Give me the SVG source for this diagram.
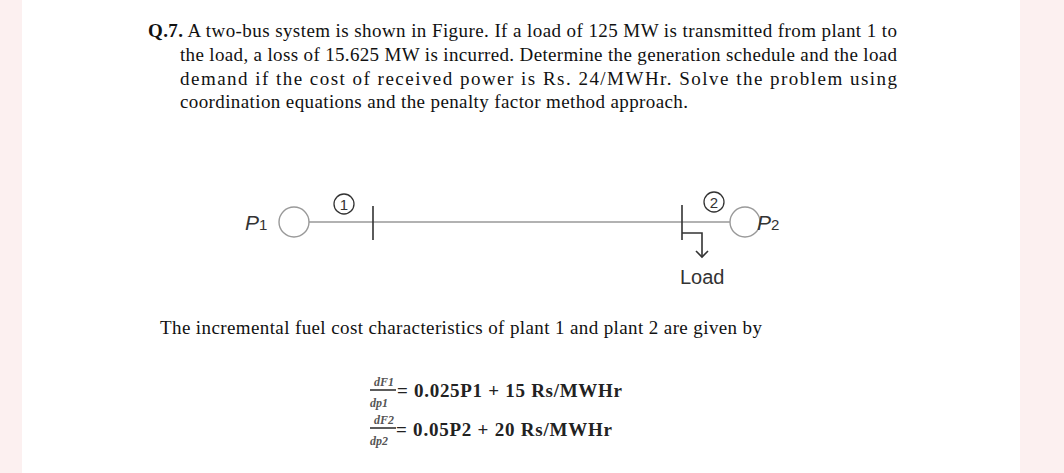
<svg xmlns="http://www.w3.org/2000/svg" width="1064" height="473" viewBox="0 0 1064 473">
<style>
.t{font-family:"Liberation Serif",serif;font-size:19px;fill:#111}
.s{font-family:"Liberation Sans",Arial,sans-serif;fill:#333}
.ln{stroke:#999;stroke-width:1.4;fill:none}
.bus{stroke:#333;stroke-width:1.6}
.eq{font-family:"Liberation Serif",serif;font-weight:bold;font-size:19px;fill:#222}
.fr{font-family:"Liberation Serif",serif;font-style:italic;font-weight:bold;font-size:12px;fill:#555}
</style>
<rect width="1064" height="473" fill="#fcf0f0"/>
<rect x="22" y="0" width="998" height="473" fill="#fff"/>
<g id="question">
<text class="t" x="148" y="37" textLength="749" lengthAdjust="spacing"><tspan font-weight="bold">Q.7.</tspan> A two-bus system is shown in Figure. If a load of 125 MW is transmitted from plant 1 to</text>
<text class="t" x="180" y="61" textLength="717" lengthAdjust="spacing">the load, a loss of 15.625 MW is incurred. Determine the generation schedule and the load</text>
<text class="t" x="180" y="85" textLength="717" lengthAdjust="spacing">demand if the cost of received power is Rs. 24/MWHr. Solve the problem using</text>
<text class="t" x="180" y="108" textLength="508" lengthAdjust="spacing">coordination equations and the penalty factor method approach.</text>
</g>
<g id="connectors">
<line class="ln" x1="309" y1="222" x2="730" y2="222"/>
<path d="M682,233 H702 V257" fill="none" stroke="#333" stroke-width="1.6"/>
<path d="M696,251 L702,257 L708,251" fill="none" stroke="#333" stroke-width="1.6"/>
</g>
<g id="gen1">
<circle class="ln" cx="294" cy="222" r="15"/>
<text class="s" x="245" y="230" font-size="21" font-style="italic">P<tspan font-size="15" font-style="normal">1</tspan></text>
</g>
<g id="bus1">
<line class="bus" x1="373" y1="206" x2="373" y2="240"/>
<circle cx="344" cy="204" r="10" fill="none" stroke="#333" stroke-width="1.3"/>
<text class="s" x="344" y="209.5" font-size="15" text-anchor="middle">1</text>
</g>
<g id="bus2">
<line class="bus" x1="682" y1="205" x2="682" y2="240"/>
<circle cx="714" cy="202" r="10" fill="none" stroke="#333" stroke-width="1.3"/>
<text class="s" x="714" y="207.5" font-size="15" text-anchor="middle">2</text>
</g>
<g id="gen2">
<circle class="ln" cx="745" cy="222" r="15"/>
<text class="s" x="757" y="230" font-size="21" font-style="italic">P<tspan font-size="15" font-style="normal">2</tspan></text>
</g>
<g id="load">
<text class="s" x="680" y="284" font-size="20">Load</text>
</g>
<g id="equations">
<text class="t" x="160" y="334" textLength="602" lengthAdjust="spacing">The incremental fuel cost characteristics of plant 1 and plant 2 are given by</text>
<text class="fr" x="374" y="386">dF1</text>
<line x1="370" y1="390" x2="396" y2="390" stroke="#333" stroke-width="1.6"/>
<text class="fr" x="370" y="407" font-size="13">dp1</text>
<text class="eq" x="397" y="397" textLength="225" lengthAdjust="spacing">= 0.025P1 + 15 Rs/MWHr</text>
<text class="fr" x="374" y="424">dF2</text>
<line x1="370" y1="428" x2="396" y2="428" stroke="#333" stroke-width="1.6"/>
<text class="fr" x="370" y="445" font-size="13">dp2</text>
<text class="eq" x="396" y="436" textLength="216" lengthAdjust="spacing">= 0.05P2 + 20 Rs/MWHr</text>
</g>
</svg>
